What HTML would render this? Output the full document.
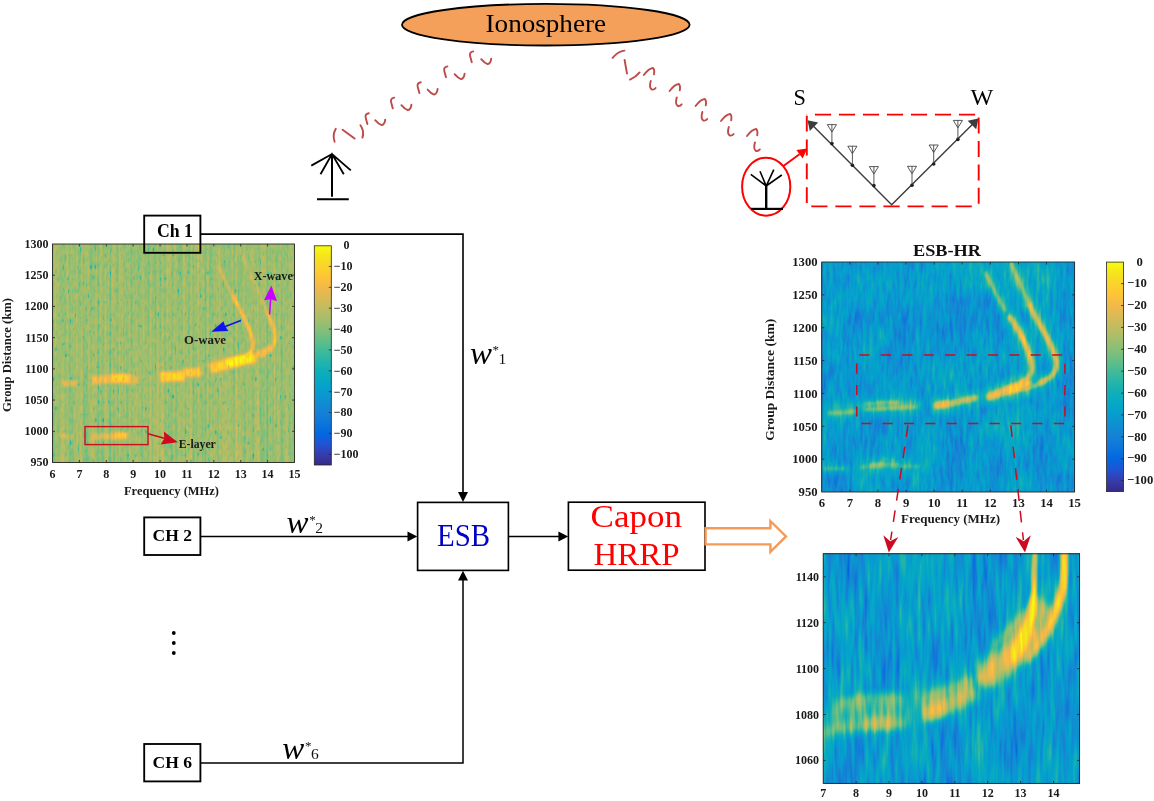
<!DOCTYPE html>
<html lang="en"><head><meta charset="utf-8"><title>ESB Capon HRRP ionosphere diagram</title>
<style>
html,body{margin:0;padding:0;background:#fff;}
body{width:1154px;height:801px;overflow:hidden;}
svg{display:block;font-family:"Liberation Serif", "DejaVu Serif", serif;}
svg text{font-family:"Liberation Serif", "DejaVu Serif", serif;}
</style></head><body>
<svg width="1154" height="801" viewBox="0 0 1154 801">
<defs>
<linearGradient id="cbar" x1="0" y1="0" x2="0" y2="1"><stop offset="0.0000" stop-color="#f9fb0e"/><stop offset="0.0476" stop-color="#f5e41d"/><stop offset="0.0952" stop-color="#fad32a"/><stop offset="0.1429" stop-color="#ffc337"/><stop offset="0.1905" stop-color="#f1b94a"/><stop offset="0.2381" stop-color="#d9ba56"/><stop offset="0.2857" stop-color="#c0bc60"/><stop offset="0.3333" stop-color="#a5be6b"/><stop offset="0.3810" stop-color="#87bf77"/><stop offset="0.4286" stop-color="#65be86"/><stop offset="0.4762" stop-color="#42bb98"/><stop offset="0.5238" stop-color="#25b5a9"/><stop offset="0.5714" stop-color="#0faeb9"/><stop offset="0.6190" stop-color="#06a7c6"/><stop offset="0.6667" stop-color="#079ccf"/><stop offset="0.7143" stop-color="#108ed2"/><stop offset="0.7619" stop-color="#1481d6"/><stop offset="0.8095" stop-color="#0d75dc"/><stop offset="0.8571" stop-color="#0268e1"/><stop offset="0.9048" stop-color="#2053d4"/><stop offset="0.9524" stop-color="#353dad"/><stop offset="1.0000" stop-color="#352a87"/><stop offset="1" stop-color="#352a87"/></linearGradient>
<marker id="ab" viewBox="0 0 10 10" refX="10" refY="5" markerWidth="10" markerHeight="10" markerUnits="userSpaceOnUse" orient="auto"><path d="M0,0 L10,5 L0,10 z" fill="#000"/></marker>
<filter id="b1" filterUnits="userSpaceOnUse" x="0" y="200" width="1154" height="601" color-interpolation-filters="sRGB"><feGaussianBlur stdDeviation="1.25"/></filter>
<filter id="b15" filterUnits="userSpaceOnUse" x="0" y="200" width="1154" height="601" color-interpolation-filters="sRGB"><feGaussianBlur stdDeviation="1.7"/></filter>
<filter id="b2" filterUnits="userSpaceOnUse" x="0" y="200" width="1154" height="601" color-interpolation-filters="sRGB"><feGaussianBlur stdDeviation="2.2"/></filter>
<filter id="b3" filterUnits="userSpaceOnUse" x="0" y="200" width="1154" height="601" color-interpolation-filters="sRGB"><feGaussianBlur stdDeviation="3.5"/></filter>
<filter id="b4" filterUnits="userSpaceOnUse" x="0" y="200" width="1154" height="601" color-interpolation-filters="sRGB"><feGaussianBlur stdDeviation="1.6 4"/></filter>
<filter id="hmf1" filterUnits="userSpaceOnUse" x="52.5" y="244" width="242" height="218.5" color-interpolation-filters="sRGB"><feTurbulence type="fractalNoise" baseFrequency="0.42 0.16" numOctaves="1" seed="11" result="n"/><feColorMatrix in="n" type="matrix" values="0.15 0 0 0 0.425  0.15 0 0 0 0.425  0.15 0 0 0 0.425  0 0 0 0 1" result="ng"/><feComposite in="SourceGraphic" in2="ng" operator="arithmetic" k1="0" k2="1" k3="1" k4="-0.5" result="v1"/><feTurbulence type="fractalNoise" baseFrequency="0.42 0.003" numOctaves="1" seed="5" result="n2"/><feColorMatrix in="n2" type="matrix" values="0.24 0 0 0 0.38  0.24 0 0 0 0.38  0.24 0 0 0 0.38  0 0 0 0 1" result="ng2"/><feComposite in="v1" in2="ng2" operator="arithmetic" k1="0" k2="1" k3="1" k4="-0.5" result="v2"/><feTurbulence type="fractalNoise" baseFrequency="0.40 0.17" numOctaves="1" seed="31" result="n3"/><feColorMatrix in="n3" type="matrix" values="0 6 0 0 -1.0699999999999998  0 6 0 0 -1.0699999999999998  0 6 0 0 -1.0699999999999998  0 0 0 0 1" result="ng3"/><feComposite in="v2" in2="ng3" operator="arithmetic" k1="0" k2="1" k3="0.17" k4="-0.17" result="v3"/><feComponentTransfer in="v3"><feFuncR type="table" tableValues="0.208 0.212 0.212 0.208 0.196 0.171 0.125 0.059 0.012 0.006 0.017 0.033 0.050 0.063 0.072 0.078 0.079 0.075 0.064 0.049 0.034 0.026 0.024 0.023 0.023 0.027 0.038 0.059 0.084 0.113 0.145 0.180 0.218 0.259 0.302 0.348 0.395 0.442 0.487 0.530 0.571 0.610 0.647 0.683 0.718 0.752 0.786 0.819 0.851 0.882 0.914 0.945 0.974 0.994 0.999 0.996 0.988 0.979 0.970 0.963 0.959 0.960 0.966 0.976"/><feFuncG type="table" tableValues="0.166 0.190 0.214 0.239 0.265 0.292 0.324 0.360 0.388 0.409 0.427 0.443 0.459 0.474 0.489 0.504 0.520 0.537 0.557 0.577 0.597 0.614 0.629 0.642 0.653 0.664 0.674 0.684 0.693 0.702 0.710 0.718 0.725 0.732 0.738 0.742 0.746 0.748 0.749 0.749 0.749 0.747 0.746 0.744 0.741 0.738 0.736 0.733 0.730 0.727 0.726 0.726 0.731 0.746 0.765 0.786 0.807 0.827 0.848 0.871 0.895 0.922 0.951 0.983"/><feFuncB type="table" tableValues="0.529 0.578 0.627 0.677 0.728 0.779 0.830 0.868 0.882 0.883 0.879 0.872 0.864 0.855 0.847 0.838 0.831 0.826 0.824 0.823 0.820 0.814 0.804 0.791 0.777 0.761 0.744 0.725 0.706 0.686 0.665 0.642 0.619 0.595 0.571 0.547 0.524 0.503 0.484 0.466 0.449 0.434 0.419 0.404 0.391 0.377 0.363 0.350 0.336 0.322 0.306 0.289 0.267 0.240 0.216 0.197 0.179 0.163 0.147 0.131 0.113 0.095 0.075 0.054"/></feComponentTransfer></filter>
<filter id="hmf2" filterUnits="userSpaceOnUse" x="821.8" y="262" width="252.8" height="230" color-interpolation-filters="sRGB"><feTurbulence type="fractalNoise" baseFrequency="0.30 0.055" numOctaves="2" seed="4" result="n"/><feColorMatrix in="n" type="matrix" values="0.3 0 0 0 0.35  0.3 0 0 0 0.35  0.3 0 0 0 0.35  0 0 0 0 1" result="ng"/><feComposite in="SourceGraphic" in2="ng" operator="arithmetic" k1="0" k2="1" k3="1" k4="-0.5" result="v1"/><feTurbulence type="fractalNoise" baseFrequency="0.035 0.02" numOctaves="1" seed="9" result="n2"/><feColorMatrix in="n2" type="matrix" values="0.28 0 0 0 0.36  0.28 0 0 0 0.36  0.28 0 0 0 0.36  0 0 0 0 1" result="ng2"/><feComposite in="v1" in2="ng2" operator="arithmetic" k1="0" k2="1" k3="1" k4="-0.5" result="v2"/><feComponentTransfer in="v2"><feFuncR type="table" tableValues="0.208 0.212 0.212 0.208 0.196 0.171 0.125 0.059 0.012 0.006 0.017 0.033 0.050 0.063 0.072 0.078 0.079 0.075 0.064 0.049 0.034 0.026 0.024 0.023 0.023 0.027 0.038 0.059 0.084 0.113 0.145 0.180 0.218 0.259 0.302 0.348 0.395 0.442 0.487 0.530 0.571 0.610 0.647 0.683 0.718 0.752 0.786 0.819 0.851 0.882 0.914 0.945 0.974 0.994 0.999 0.996 0.988 0.979 0.970 0.963 0.959 0.960 0.966 0.976"/><feFuncG type="table" tableValues="0.166 0.190 0.214 0.239 0.265 0.292 0.324 0.360 0.388 0.409 0.427 0.443 0.459 0.474 0.489 0.504 0.520 0.537 0.557 0.577 0.597 0.614 0.629 0.642 0.653 0.664 0.674 0.684 0.693 0.702 0.710 0.718 0.725 0.732 0.738 0.742 0.746 0.748 0.749 0.749 0.749 0.747 0.746 0.744 0.741 0.738 0.736 0.733 0.730 0.727 0.726 0.726 0.731 0.746 0.765 0.786 0.807 0.827 0.848 0.871 0.895 0.922 0.951 0.983"/><feFuncB type="table" tableValues="0.529 0.578 0.627 0.677 0.728 0.779 0.830 0.868 0.882 0.883 0.879 0.872 0.864 0.855 0.847 0.838 0.831 0.826 0.824 0.823 0.820 0.814 0.804 0.791 0.777 0.761 0.744 0.725 0.706 0.686 0.665 0.642 0.619 0.595 0.571 0.547 0.524 0.503 0.484 0.466 0.449 0.434 0.419 0.404 0.391 0.377 0.363 0.350 0.336 0.322 0.306 0.289 0.267 0.240 0.216 0.197 0.179 0.163 0.147 0.131 0.113 0.095 0.075 0.054"/></feComponentTransfer></filter>
<filter id="hmf3" filterUnits="userSpaceOnUse" x="823.2" y="553.8" width="256.4" height="229.6" color-interpolation-filters="sRGB"><feTurbulence type="fractalNoise" baseFrequency="0.22 0.022" numOctaves="2" seed="21" result="n"/><feColorMatrix in="n" type="matrix" values="0.44 0 0 0 0.28  0.44 0 0 0 0.28  0.44 0 0 0 0.28  0 0 0 0 1" result="ng"/><feComposite in="SourceGraphic" in2="ng" operator="arithmetic" k1="0" k2="1" k3="1" k4="-0.5" result="v1"/><feTurbulence type="fractalNoise" baseFrequency="0.03 0.012" numOctaves="1" seed="13" result="n2"/><feColorMatrix in="n2" type="matrix" values="0.3 0 0 0 0.35  0.3 0 0 0 0.35  0.3 0 0 0 0.35  0 0 0 0 1" result="ng2"/><feComposite in="v1" in2="ng2" operator="arithmetic" k1="0" k2="1" k3="1" k4="-0.5" result="v2"/><feComponentTransfer in="v2"><feFuncR type="table" tableValues="0.208 0.212 0.212 0.208 0.196 0.171 0.125 0.059 0.012 0.006 0.017 0.033 0.050 0.063 0.072 0.078 0.079 0.075 0.064 0.049 0.034 0.026 0.024 0.023 0.023 0.027 0.038 0.059 0.084 0.113 0.145 0.180 0.218 0.259 0.302 0.348 0.395 0.442 0.487 0.530 0.571 0.610 0.647 0.683 0.718 0.752 0.786 0.819 0.851 0.882 0.914 0.945 0.974 0.994 0.999 0.996 0.988 0.979 0.970 0.963 0.959 0.960 0.966 0.976"/><feFuncG type="table" tableValues="0.166 0.190 0.214 0.239 0.265 0.292 0.324 0.360 0.388 0.409 0.427 0.443 0.459 0.474 0.489 0.504 0.520 0.537 0.557 0.577 0.597 0.614 0.629 0.642 0.653 0.664 0.674 0.684 0.693 0.702 0.710 0.718 0.725 0.732 0.738 0.742 0.746 0.748 0.749 0.749 0.749 0.747 0.746 0.744 0.741 0.738 0.736 0.733 0.730 0.727 0.726 0.726 0.731 0.746 0.765 0.786 0.807 0.827 0.848 0.871 0.895 0.922 0.951 0.983"/><feFuncB type="table" tableValues="0.529 0.578 0.627 0.677 0.728 0.779 0.830 0.868 0.882 0.883 0.879 0.872 0.864 0.855 0.847 0.838 0.831 0.826 0.824 0.823 0.820 0.814 0.804 0.791 0.777 0.761 0.744 0.725 0.706 0.686 0.665 0.642 0.619 0.595 0.571 0.547 0.524 0.503 0.484 0.466 0.449 0.434 0.419 0.404 0.391 0.377 0.363 0.350 0.336 0.322 0.306 0.289 0.267 0.240 0.216 0.197 0.179 0.163 0.147 0.131 0.113 0.095 0.075 0.054"/></feComponentTransfer></filter>
</defs>
<rect x="0" y="0" width="1154" height="801" fill="#fff"/>
<g filter="url(#hmf1)"><rect x="47.5" y="239" width="252" height="228.5" fill="#a7a7a7"/><path d="M62.0,383.4 L76.0,383.0" fill="none" stroke="#c7c7c7" stroke-width="5.5" stroke-linecap="butt" stroke-linejoin="round" filter="url(#b15)"/><path d="M92.0,380.5 C93.7,380.3 98.7,379.8 102.0,379.5 C105.3,379.2 110.3,379.1 112.0,379.0" fill="none" stroke="#d1d1d1" stroke-width="8" stroke-linecap="butt" stroke-linejoin="round" filter="url(#b15)"/><path d="M111.0,378.6 C112.7,378.6 117.7,378.3 121.0,378.3 C124.3,378.3 129.3,378.6 131.0,378.6" fill="none" stroke="#e6e6e6" stroke-width="9" stroke-linecap="butt" stroke-linejoin="round" filter="url(#b15)"/><path d="M131.0,379.5 L138.0,379.0" fill="none" stroke="#c9c9c9" stroke-width="7" stroke-linecap="butt" stroke-linejoin="round" filter="url(#b15)"/><path d="M160.0,376.8 C162.0,376.8 167.9,376.7 172.0,376.6 C176.1,376.5 182.4,376.3 184.5,376.2" fill="none" stroke="#e8e8e8" stroke-width="9.5" stroke-linecap="butt" stroke-linejoin="round" filter="url(#b15)"/><path d="M184.0,372.8 C185.5,372.7 190.1,372.5 193.0,372.4 C195.9,372.3 200.1,372.1 201.5,372.0" fill="none" stroke="#e0e0e0" stroke-width="8.5" stroke-linecap="butt" stroke-linejoin="round" filter="url(#b15)"/><path d="M210.0,368.5 C212.0,368.0 218.0,366.5 222.0,365.5 C226.0,364.5 230.0,363.5 234.0,362.5 C238.0,361.5 242.5,360.4 246.0,359.5 C249.5,358.6 253.5,357.4 255.0,357.0" fill="none" stroke="#e0e0e0" stroke-width="10.5" stroke-linecap="butt" stroke-linejoin="round" filter="url(#b15)"/><path d="M230.0,362.0 C231.7,361.7 236.5,360.7 240.0,360.0 C243.5,359.3 249.2,358.3 251.0,358.0" fill="none" stroke="#fafafa" stroke-width="8" stroke-linecap="round" stroke-linejoin="round" filter="url(#b15)"/><path d="M256.0,355.5 C257.2,354.9 260.8,353.2 263.0,352.0 C265.2,350.8 268.0,348.7 269.0,348.0" fill="none" stroke="#d6d6d6" stroke-width="5" stroke-linecap="round" stroke-linejoin="round" filter="url(#b15)"/><path d="M218.0,266.0 C219.3,268.7 223.3,276.7 226.0,282.0 C228.7,287.3 232.7,295.3 234.0,298.0" fill="none" stroke="#c4c4c4" stroke-width="2.6" stroke-linecap="round" stroke-linejoin="round" filter="url(#b1)"/><path d="M233.0,296.0 C234.2,298.3 237.8,305.5 240.0,310.0 C242.2,314.5 244.7,318.8 246.5,323.0 C248.3,327.2 249.9,331.5 251.0,335.0 C252.1,338.5 252.9,341.3 253.0,344.0 C253.1,346.7 252.5,349.0 251.5,351.0 C250.5,353.0 247.8,355.2 247.0,356.0" fill="none" stroke="#e0e0e0" stroke-width="3.2" stroke-linecap="round" stroke-linejoin="round" filter="url(#b1)"/><path d="M238.5,247.0 C239.9,250.2 244.2,259.7 247.0,266.0 C249.8,272.3 254.1,281.8 255.5,285.0" fill="none" stroke="#bdbdbd" stroke-width="2.4" stroke-linecap="round" stroke-linejoin="round" filter="url(#b1)"/><path d="M256.0,287.0 C257.0,289.2 260.1,295.7 262.0,300.0 C263.9,304.3 266.6,310.8 267.5,313.0" fill="none" stroke="#bdbdbd" stroke-width="2.4" stroke-linecap="round" stroke-linejoin="round" filter="url(#b1)"/><path d="M267.5,313.0 C268.2,314.8 270.8,320.5 272.0,324.0 C273.2,327.5 274.6,330.8 275.0,334.0 C275.4,337.2 275.3,340.3 274.5,343.0 C273.7,345.7 272.1,347.8 270.0,350.0 C267.9,352.2 263.3,355.0 262.0,356.0" fill="none" stroke="#dbdbdb" stroke-width="3.2" stroke-linecap="round" stroke-linejoin="round" filter="url(#b1)"/><path d="M58.0,436.0 L74.0,436.2" fill="none" stroke="#bdbdbd" stroke-width="5" stroke-linecap="butt" stroke-linejoin="round" filter="url(#b15)"/><path d="M92.0,436.8 C94.7,436.8 102.0,436.7 108.0,436.6 C114.0,436.5 124.7,436.3 128.0,436.2" fill="none" stroke="#c7c7c7" stroke-width="5.5" stroke-linecap="butt" stroke-linejoin="round" filter="url(#b15)"/><path d="M112.0,435.6 L127.0,435.4" fill="none" stroke="#dbdbdb" stroke-width="6.5" stroke-linecap="butt" stroke-linejoin="round" filter="url(#b15)"/></g>
<rect x="52.5" y="244" width="242" height="218.5" fill="none" stroke="#262626" stroke-width="0.9"/><path d="M79.39,462.5 v-2.5 M79.39,244 v2.5 M106.28,462.5 v-2.5 M106.28,244 v2.5 M133.17,462.5 v-2.5 M133.17,244 v2.5 M160.06,462.5 v-2.5 M160.06,244 v2.5 M186.94,462.5 v-2.5 M186.94,244 v2.5 M213.83,462.5 v-2.5 M213.83,244 v2.5 M240.72,462.5 v-2.5 M240.72,244 v2.5 M267.61,462.5 v-2.5 M267.61,244 v2.5 M52.5,431.29 h2.5 M294.5,431.29 h-2.5 M52.5,400.07 h2.5 M294.5,400.07 h-2.5 M52.5,368.86 h2.5 M294.5,368.86 h-2.5 M52.5,337.64 h2.5 M294.5,337.64 h-2.5 M52.5,306.43 h2.5 M294.5,306.43 h-2.5 M52.5,275.21 h2.5 M294.5,275.21 h-2.5 " stroke="#262626" stroke-width="0.8" fill="none"/>
<text x="52.5" y="477.9" font-size="12" font-weight="bold" font-style="normal" text-anchor="middle" fill="#1a1a1a">6</text>
<text x="79.4" y="477.9" font-size="12" font-weight="bold" font-style="normal" text-anchor="middle" fill="#1a1a1a">7</text>
<text x="106.3" y="477.9" font-size="12" font-weight="bold" font-style="normal" text-anchor="middle" fill="#1a1a1a">8</text>
<text x="133.2" y="477.9" font-size="12" font-weight="bold" font-style="normal" text-anchor="middle" fill="#1a1a1a">9</text>
<text x="160.1" y="477.9" font-size="12" font-weight="bold" font-style="normal" text-anchor="middle" fill="#1a1a1a">10</text>
<text x="186.9" y="477.9" font-size="12" font-weight="bold" font-style="normal" text-anchor="middle" fill="#1a1a1a">11</text>
<text x="213.8" y="477.9" font-size="12" font-weight="bold" font-style="normal" text-anchor="middle" fill="#1a1a1a">12</text>
<text x="240.7" y="477.9" font-size="12" font-weight="bold" font-style="normal" text-anchor="middle" fill="#1a1a1a">13</text>
<text x="267.6" y="477.9" font-size="12" font-weight="bold" font-style="normal" text-anchor="middle" fill="#1a1a1a">14</text>
<text x="294.5" y="477.9" font-size="12" font-weight="bold" font-style="normal" text-anchor="middle" fill="#1a1a1a">15</text>
<text x="48.6" y="466.4" font-size="12" font-weight="bold" font-style="normal" text-anchor="end" fill="#1a1a1a">950</text>
<text x="48.6" y="435.2" font-size="12" font-weight="bold" font-style="normal" text-anchor="end" fill="#1a1a1a">1000</text>
<text x="48.6" y="404.0" font-size="12" font-weight="bold" font-style="normal" text-anchor="end" fill="#1a1a1a">1050</text>
<text x="48.6" y="372.8" font-size="12" font-weight="bold" font-style="normal" text-anchor="end" fill="#1a1a1a">1100</text>
<text x="48.6" y="341.5" font-size="12" font-weight="bold" font-style="normal" text-anchor="end" fill="#1a1a1a">1150</text>
<text x="48.6" y="310.3" font-size="12" font-weight="bold" font-style="normal" text-anchor="end" fill="#1a1a1a">1200</text>
<text x="48.6" y="279.1" font-size="12" font-weight="bold" font-style="normal" text-anchor="end" fill="#1a1a1a">1250</text>
<text x="48.6" y="247.9" font-size="12" font-weight="bold" font-style="normal" text-anchor="end" fill="#1a1a1a">1300</text>
<text x="171.5" y="495.2" font-size="12" font-weight="bold" font-style="normal" text-anchor="middle" fill="#1a1a1a" textLength="95" lengthAdjust="spacingAndGlyphs">Frequency (MHz)</text>
<text transform="translate(11.3,355) rotate(-90)" font-size="12" font-weight="bold" text-anchor="middle" fill="#1a1a1a" textLength="114" lengthAdjust="spacingAndGlyphs">Group Distance (km)</text>
<rect x="314.3" y="245.8" width="17" height="219.2" fill="url(#cbar)" stroke="#262626" stroke-width="0.8"/>
<path d="M331.3,454.25 h-2.5 M331.3,433.38 h-2.5 M331.3,412.52 h-2.5 M331.3,391.65 h-2.5 M331.3,370.79 h-2.5 M331.3,349.93 h-2.5 M331.3,329.06 h-2.5 M331.3,308.19 h-2.5 M331.3,287.33 h-2.5 M331.3,266.46 h-2.5 " stroke="#262626" stroke-width="0.8"/>
<text x="343.4" y="249.4" font-size="12" font-weight="bold" font-style="normal" text-anchor="start" fill="#1a1a1a">0</text>
<text x="333.7" y="270.3" font-size="12" font-weight="bold" font-style="normal" text-anchor="start" fill="#1a1a1a">−10</text>
<text x="333.7" y="291.1" font-size="12" font-weight="bold" font-style="normal" text-anchor="start" fill="#1a1a1a">−20</text>
<text x="333.7" y="312.0" font-size="12" font-weight="bold" font-style="normal" text-anchor="start" fill="#1a1a1a">−30</text>
<text x="333.7" y="332.9" font-size="12" font-weight="bold" font-style="normal" text-anchor="start" fill="#1a1a1a">−40</text>
<text x="333.7" y="353.7" font-size="12" font-weight="bold" font-style="normal" text-anchor="start" fill="#1a1a1a">−50</text>
<text x="333.7" y="374.6" font-size="12" font-weight="bold" font-style="normal" text-anchor="start" fill="#1a1a1a">−60</text>
<text x="333.7" y="395.5" font-size="12" font-weight="bold" font-style="normal" text-anchor="start" fill="#1a1a1a">−70</text>
<text x="333.7" y="416.3" font-size="12" font-weight="bold" font-style="normal" text-anchor="start" fill="#1a1a1a">−80</text>
<text x="333.7" y="437.2" font-size="12" font-weight="bold" font-style="normal" text-anchor="start" fill="#1a1a1a">−90</text>
<text x="333.7" y="458.1" font-size="12" font-weight="bold" font-style="normal" text-anchor="start" fill="#1a1a1a">−100</text>
<g filter="url(#hmf2)"><rect x="816.8" y="257" width="262.8" height="240" fill="#545454"/><path d="M829.0,413.0 C831.2,412.9 837.7,412.8 842.0,412.6 C846.3,412.4 852.8,411.8 855.0,411.6" fill="none" stroke="#6b6b6b" stroke-width="12.1" stroke-linecap="round" stroke-linejoin="round" filter="url(#b3)"/><path d="M864.0,406.5 C866.7,406.3 874.0,405.8 880.0,405.5 C886.0,405.2 893.8,405.2 900.0,405.0 C906.2,404.8 914.2,404.6 917.0,404.5" fill="none" stroke="#676767" stroke-width="13.8" stroke-linecap="round" stroke-linejoin="round" filter="url(#b3)"/><path d="M866.0,404.0 C868.7,403.8 876.7,402.9 882.0,402.6 C887.3,402.3 895.3,402.4 898.0,402.4" fill="none" stroke="#727272" stroke-width="6.6" stroke-linecap="round" stroke-linejoin="round" filter="url(#b3)"/><path d="M866.0,409.6 C869.0,409.4 877.7,408.9 884.0,408.6 C890.3,408.3 898.7,407.9 904.0,407.6 C909.3,407.3 914.0,407.1 916.0,407.0" fill="none" stroke="#747474" stroke-width="6.6" stroke-linecap="round" stroke-linejoin="round" filter="url(#b3)"/><path d="M937.0,405.5 C939.2,405.2 945.5,404.3 950.0,403.5 C954.5,402.7 959.8,401.4 964.0,400.5 C968.2,399.6 973.2,398.4 975.0,398.0" fill="none" stroke="#787878" stroke-width="14.0" stroke-linecap="round" stroke-linejoin="round" filter="url(#b3)"/><path d="M938.0,405.0 L946.0,403.8" fill="none" stroke="#7e7e7e" stroke-width="12.0" stroke-linecap="round" stroke-linejoin="round" filter="url(#b3)"/><path d="M990.0,396.5 C991.7,395.9 996.3,394.2 1000.0,393.0 C1003.7,391.8 1008.2,390.2 1012.0,389.0 C1015.8,387.8 1021.2,386.5 1023.0,386.0" fill="none" stroke="#7f7f7f" stroke-width="17.0" stroke-linecap="round" stroke-linejoin="round" filter="url(#b3)"/><path d="M1008.0,390.0 C1009.7,389.5 1014.8,388.2 1018.0,387.0 C1021.2,385.8 1025.5,383.7 1027.0,383.0" fill="none" stroke="#878787" stroke-width="15.8" stroke-linecap="round" stroke-linejoin="round" filter="url(#b3)"/><path d="M1023.0,389.5 C1024.8,388.9 1030.5,387.3 1034.0,386.0 C1037.5,384.7 1042.3,382.2 1044.0,381.5" fill="none" stroke="#7a7a7a" stroke-width="10.0" stroke-linecap="round" stroke-linejoin="round" filter="url(#b3)"/><path d="M985.6,273.5 C987.2,276.6 991.8,285.8 995.0,292.0 C998.2,298.2 1003.2,307.6 1004.8,310.7" fill="none" stroke="#727272" stroke-width="10.8" stroke-linecap="round" stroke-linejoin="round" filter="url(#b3)"/><path d="M1010.4,317.5 C1011.5,319.2 1014.9,324.4 1017.0,328.0 C1019.1,331.6 1021.1,335.7 1022.8,339.0 C1024.5,342.3 1025.8,345.0 1027.0,348.0 C1028.2,351.0 1029.2,353.7 1030.0,357.0 C1030.8,360.3 1032.0,364.8 1031.8,368.0 C1031.6,371.2 1030.6,374.1 1029.0,376.5 C1027.4,378.9 1023.2,381.5 1022.0,382.5" fill="none" stroke="#838383" stroke-width="12.680000000000001" stroke-linecap="round" stroke-linejoin="round" filter="url(#b3)"/><path d="M1011.5,263.4 C1012.9,266.8 1017.0,277.1 1020.0,284.0 C1023.0,290.9 1027.9,301.5 1029.5,305.0" fill="none" stroke="#747474" stroke-width="10.8" stroke-linecap="round" stroke-linejoin="round" filter="url(#b3)"/><path d="M1029.5,305.0 C1030.8,307.5 1034.4,315.1 1037.0,320.0 C1039.6,324.9 1043.0,330.2 1045.3,334.4 C1047.5,338.6 1049.0,341.6 1050.5,345.0 C1052.0,348.4 1053.3,351.4 1054.3,354.6 C1055.3,357.8 1056.4,361.3 1056.5,364.0 C1056.6,366.7 1056.1,368.8 1055.0,371.0 C1053.9,373.2 1052.3,375.1 1050.0,377.0 C1047.7,378.9 1042.5,381.6 1041.0,382.5" fill="none" stroke="#818181" stroke-width="12.240000000000002" stroke-linecap="round" stroke-linejoin="round" filter="url(#b3)"/><path d="M826.0,468.6 C827.5,468.6 832.0,468.8 835.0,468.8 C838.0,468.8 842.5,468.5 844.0,468.4" fill="none" stroke="#6b6b6b" stroke-width="10.8" stroke-linecap="round" stroke-linejoin="round" filter="url(#b3)"/><path d="M862.0,467.0 C865.0,466.8 873.7,466.1 880.0,466.0 C886.3,465.9 893.7,466.5 900.0,466.5 C906.3,466.5 915.0,466.1 918.0,466.0" fill="none" stroke="#676767" stroke-width="10.8" stroke-linecap="round" stroke-linejoin="round" filter="url(#b3)"/><path d="M872.0,465.5 C874.2,465.2 880.7,464.2 885.0,464.0 C889.3,463.8 895.8,464.4 898.0,464.5" fill="none" stroke="#6f6f6f" stroke-width="14.700000000000001" stroke-linecap="round" stroke-linejoin="round" filter="url(#b3)"/><path d="M884.0,459.0 L895.0,461.0" fill="none" stroke="#676767" stroke-width="10.8" stroke-linecap="round" stroke-linejoin="round" filter="url(#b3)"/><path d="M829.0,413.0 C831.2,412.9 837.7,412.8 842.0,412.6 C846.3,412.4 852.8,411.8 855.0,411.6" fill="none" stroke="#949494" stroke-width="3.6750000000000003" stroke-linecap="round" stroke-linejoin="round" filter="url(#b15)"/><path d="M864.0,406.5 C866.7,406.3 874.0,405.8 880.0,405.5 C886.0,405.2 893.8,405.2 900.0,405.0 C906.2,404.8 914.2,404.6 917.0,404.5" fill="none" stroke="#8a8a8a" stroke-width="6.300000000000001" stroke-linecap="round" stroke-linejoin="round" filter="url(#b2)"/><path d="M866.0,404.0 C868.7,403.8 876.7,402.9 882.0,402.6 C887.3,402.3 895.3,402.4 898.0,402.4" fill="none" stroke="#a8a8a8" stroke-width="2.52" stroke-linecap="round" stroke-linejoin="round" filter="url(#b15)"/><path d="M866.0,409.6 C869.0,409.4 877.7,408.9 884.0,408.6 C890.3,408.3 898.7,407.9 904.0,407.6 C909.3,407.3 914.0,407.1 916.0,407.0" fill="none" stroke="#adadad" stroke-width="2.52" stroke-linecap="round" stroke-linejoin="round" filter="url(#b15)"/><path d="M937.0,405.5 C939.2,405.2 945.5,404.3 950.0,403.5 C954.5,402.7 959.8,401.4 964.0,400.5 C968.2,399.6 973.2,398.4 975.0,398.0" fill="none" stroke="#b8b8b8" stroke-width="5.775" stroke-linecap="round" stroke-linejoin="round" filter="url(#b15)"/><path d="M938.0,405.0 L946.0,403.8" fill="none" stroke="#c9c9c9" stroke-width="6.300000000000001" stroke-linecap="round" stroke-linejoin="round" filter="url(#b15)"/><path d="M990.0,396.5 C991.7,395.9 996.3,394.2 1000.0,393.0 C1003.7,391.8 1008.2,390.2 1012.0,389.0 C1015.8,387.8 1021.2,386.5 1023.0,386.0" fill="none" stroke="#cccccc" stroke-width="7.3500000000000005" stroke-linecap="round" stroke-linejoin="round" filter="url(#b15)"/><path d="M1008.0,390.0 C1009.7,389.5 1014.8,388.2 1018.0,387.0 C1021.2,385.8 1025.5,383.7 1027.0,383.0" fill="none" stroke="#e0e0e0" stroke-width="8.4" stroke-linecap="round" stroke-linejoin="round" filter="url(#b15)"/><path d="M1023.0,389.5 C1024.8,388.9 1030.5,387.3 1034.0,386.0 C1037.5,384.7 1042.3,382.2 1044.0,381.5" fill="none" stroke="#bdbdbd" stroke-width="3.6750000000000003" stroke-linecap="round" stroke-linejoin="round" filter="url(#b15)"/><path d="M985.6,273.5 C987.2,276.6 991.8,285.8 995.0,292.0 C998.2,298.2 1003.2,307.6 1004.8,310.7" fill="none" stroke="#a8a8a8" stroke-width="3.1500000000000004" stroke-linecap="round" stroke-linejoin="round" filter="url(#b15)"/><path d="M1010.4,317.5 C1011.5,319.2 1014.9,324.4 1017.0,328.0 C1019.1,331.6 1021.1,335.7 1022.8,339.0 C1024.5,342.3 1025.8,345.0 1027.0,348.0 C1028.2,351.0 1029.2,353.7 1030.0,357.0 C1030.8,360.3 1032.0,364.8 1031.8,368.0 C1031.6,371.2 1030.6,374.1 1029.0,376.5 C1027.4,378.9 1023.2,381.5 1022.0,382.5" fill="none" stroke="#d6d6d6" stroke-width="4.620000000000001" stroke-linecap="round" stroke-linejoin="round" filter="url(#b15)"/><path d="M1011.5,263.4 C1012.9,266.8 1017.0,277.1 1020.0,284.0 C1023.0,290.9 1027.9,301.5 1029.5,305.0" fill="none" stroke="#adadad" stroke-width="3.1500000000000004" stroke-linecap="round" stroke-linejoin="round" filter="url(#b15)"/><path d="M1029.5,305.0 C1030.8,307.5 1034.4,315.1 1037.0,320.0 C1039.6,324.9 1043.0,330.2 1045.3,334.4 C1047.5,338.6 1049.0,341.6 1050.5,345.0 C1052.0,348.4 1053.3,351.4 1054.3,354.6 C1055.3,357.8 1056.4,361.3 1056.5,364.0 C1056.6,366.7 1056.1,368.8 1055.0,371.0 C1053.9,373.2 1052.3,375.1 1050.0,377.0 C1047.7,378.9 1042.5,381.6 1041.0,382.5" fill="none" stroke="#d1d1d1" stroke-width="4.41" stroke-linecap="round" stroke-linejoin="round" filter="url(#b15)"/><path d="M826.0,468.6 C827.5,468.6 832.0,468.8 835.0,468.8 C838.0,468.8 842.5,468.5 844.0,468.4" fill="none" stroke="#949494" stroke-width="3.1500000000000004" stroke-linecap="round" stroke-linejoin="round" filter="url(#b15)"/><path d="M862.0,467.0 C865.0,466.8 873.7,466.1 880.0,466.0 C886.3,465.9 893.7,466.5 900.0,466.5 C906.3,466.5 915.0,466.1 918.0,466.0" fill="none" stroke="#8a8a8a" stroke-width="3.1500000000000004" stroke-linecap="round" stroke-linejoin="round" filter="url(#b15)"/><path d="M872.0,465.5 C874.2,465.2 880.7,464.2 885.0,464.0 C889.3,463.8 895.8,464.4 898.0,464.5" fill="none" stroke="#9e9e9e" stroke-width="4.7250000000000005" stroke-linecap="round" stroke-linejoin="round" filter="url(#b15)"/><path d="M884.0,459.0 L895.0,461.0" fill="none" stroke="#8a8a8a" stroke-width="3.1500000000000004" stroke-linecap="round" stroke-linejoin="round" filter="url(#b15)"/></g>
<rect x="821.8" y="262" width="252.8" height="230" fill="none" stroke="#262626" stroke-width="0.9"/><path d="M849.89,492 v-2.5 M849.89,262 v2.5 M877.98,492 v-2.5 M877.98,262 v2.5 M906.07,492 v-2.5 M906.07,262 v2.5 M934.16,492 v-2.5 M934.16,262 v2.5 M962.24,492 v-2.5 M962.24,262 v2.5 M990.33,492 v-2.5 M990.33,262 v2.5 M1018.42,492 v-2.5 M1018.42,262 v2.5 M1046.51,492 v-2.5 M1046.51,262 v2.5 M821.8,459.14 h2.5 M1074.6,459.14 h-2.5 M821.8,426.29 h2.5 M1074.6,426.29 h-2.5 M821.8,393.43 h2.5 M1074.6,393.43 h-2.5 M821.8,360.57 h2.5 M1074.6,360.57 h-2.5 M821.8,327.71 h2.5 M1074.6,327.71 h-2.5 M821.8,294.86 h2.5 M1074.6,294.86 h-2.5 " stroke="#262626" stroke-width="0.8" fill="none"/>
<text x="821.8" y="507.3" font-size="12.7" font-weight="bold" font-style="normal" text-anchor="middle" fill="#1a1a1a">6</text>
<text x="849.9" y="507.3" font-size="12.7" font-weight="bold" font-style="normal" text-anchor="middle" fill="#1a1a1a">7</text>
<text x="878.0" y="507.3" font-size="12.7" font-weight="bold" font-style="normal" text-anchor="middle" fill="#1a1a1a">8</text>
<text x="906.1" y="507.3" font-size="12.7" font-weight="bold" font-style="normal" text-anchor="middle" fill="#1a1a1a">9</text>
<text x="934.2" y="507.3" font-size="12.7" font-weight="bold" font-style="normal" text-anchor="middle" fill="#1a1a1a">10</text>
<text x="962.2" y="507.3" font-size="12.7" font-weight="bold" font-style="normal" text-anchor="middle" fill="#1a1a1a">11</text>
<text x="990.3" y="507.3" font-size="12.7" font-weight="bold" font-style="normal" text-anchor="middle" fill="#1a1a1a">12</text>
<text x="1018.4" y="507.3" font-size="12.7" font-weight="bold" font-style="normal" text-anchor="middle" fill="#1a1a1a">13</text>
<text x="1046.5" y="507.3" font-size="12.7" font-weight="bold" font-style="normal" text-anchor="middle" fill="#1a1a1a">14</text>
<text x="1074.6" y="507.3" font-size="12.7" font-weight="bold" font-style="normal" text-anchor="middle" fill="#1a1a1a">15</text>
<text x="817.6" y="496.2" font-size="12.7" font-weight="bold" font-style="normal" text-anchor="end" fill="#1a1a1a">950</text>
<text x="817.6" y="463.3" font-size="12.7" font-weight="bold" font-style="normal" text-anchor="end" fill="#1a1a1a">1000</text>
<text x="817.6" y="430.5" font-size="12.7" font-weight="bold" font-style="normal" text-anchor="end" fill="#1a1a1a">1050</text>
<text x="817.6" y="397.6" font-size="12.7" font-weight="bold" font-style="normal" text-anchor="end" fill="#1a1a1a">1100</text>
<text x="817.6" y="364.8" font-size="12.7" font-weight="bold" font-style="normal" text-anchor="end" fill="#1a1a1a">1150</text>
<text x="817.6" y="331.9" font-size="12.7" font-weight="bold" font-style="normal" text-anchor="end" fill="#1a1a1a">1200</text>
<text x="817.6" y="299.1" font-size="12.7" font-weight="bold" font-style="normal" text-anchor="end" fill="#1a1a1a">1250</text>
<text x="817.6" y="266.2" font-size="12.7" font-weight="bold" font-style="normal" text-anchor="end" fill="#1a1a1a">1300</text>
<text x="950.5" y="522.6" font-size="13" font-weight="bold" font-style="normal" text-anchor="middle" fill="#1a1a1a" textLength="99" lengthAdjust="spacingAndGlyphs">Frequency (MHz)</text>
<text transform="translate(774.3,379.8) rotate(-90)" font-size="13" font-weight="bold" text-anchor="middle" fill="#1a1a1a" textLength="122" lengthAdjust="spacingAndGlyphs">Group Distance (km)</text>
<text x="947" y="256.3" font-size="17.5" font-weight="bold" font-style="normal" text-anchor="middle" fill="#111" textLength="68" lengthAdjust="spacingAndGlyphs">ESB-HR</text>
<rect x="1106.6" y="262.1" width="17" height="229.5" fill="url(#cbar)" stroke="#262626" stroke-width="0.8"/>
<path d="M1123.6,480.60 h-2.5 M1123.6,458.72 h-2.5 M1123.6,436.84 h-2.5 M1123.6,414.96 h-2.5 M1123.6,393.08 h-2.5 M1123.6,371.20 h-2.5 M1123.6,349.32 h-2.5 M1123.6,327.44 h-2.5 M1123.6,305.56 h-2.5 M1123.6,283.68 h-2.5 " stroke="#262626" stroke-width="0.8"/>
<text x="1136.5" y="265.5" font-size="12.7" font-weight="bold" font-style="normal" text-anchor="start" fill="#1a1a1a">0</text>
<text x="1127" y="287.4" font-size="12.7" font-weight="bold" font-style="normal" text-anchor="start" fill="#1a1a1a">−10</text>
<text x="1127" y="309.3" font-size="12.7" font-weight="bold" font-style="normal" text-anchor="start" fill="#1a1a1a">−20</text>
<text x="1127" y="331.1" font-size="12.7" font-weight="bold" font-style="normal" text-anchor="start" fill="#1a1a1a">−30</text>
<text x="1127" y="353.0" font-size="12.7" font-weight="bold" font-style="normal" text-anchor="start" fill="#1a1a1a">−40</text>
<text x="1127" y="374.9" font-size="12.7" font-weight="bold" font-style="normal" text-anchor="start" fill="#1a1a1a">−50</text>
<text x="1127" y="396.8" font-size="12.7" font-weight="bold" font-style="normal" text-anchor="start" fill="#1a1a1a">−60</text>
<text x="1127" y="418.7" font-size="12.7" font-weight="bold" font-style="normal" text-anchor="start" fill="#1a1a1a">−70</text>
<text x="1127" y="440.5" font-size="12.7" font-weight="bold" font-style="normal" text-anchor="start" fill="#1a1a1a">−80</text>
<text x="1127" y="462.4" font-size="12.7" font-weight="bold" font-style="normal" text-anchor="start" fill="#1a1a1a">−90</text>
<text x="1127" y="484.3" font-size="12.7" font-weight="bold" font-style="normal" text-anchor="start" fill="#1a1a1a">−100</text>
<g filter="url(#hmf3)"><rect x="818.2" y="548.8" width="266.4" height="239.6" fill="#555555"/><path d="M824.0,733.0 C826.7,731.2 832.3,725.2 840.0,722.0 C847.7,718.8 860.0,715.8 870.0,714.0 C880.0,712.2 890.0,712.7 900.0,711.0 C910.0,709.3 920.0,707.2 930.0,704.0 C940.0,700.8 950.8,696.7 960.0,692.0 C969.2,687.3 977.5,681.3 985.0,676.0 C992.5,670.7 998.3,666.0 1005.0,660.0 C1011.7,654.0 1018.3,647.0 1025.0,640.0 C1031.7,633.0 1039.5,625.3 1045.0,618.0 C1050.5,610.7 1055.8,599.7 1058.0,596.0" fill="none" stroke="#666666" stroke-width="34" stroke-linecap="round" stroke-linejoin="round" filter="url(#b3)"/><path d="M838.0,715.0 C841.7,714.5 852.7,712.7 860.0,712.0 C867.3,711.3 875.3,711.3 882.0,711.0 C888.7,710.7 897.0,710.2 900.0,710.0" fill="none" stroke="#858585" stroke-width="30" stroke-linecap="butt" stroke-linejoin="round" filter="url(#b3)"/><path d="M823.0,732.0 L832.0,731.5" fill="none" stroke="#9e9e9e" stroke-width="7" stroke-linecap="round" stroke-linejoin="round" filter="url(#b4)"/><path d="M837.0,728.0 C839.2,727.8 844.8,727.3 850.0,727.0 C855.2,726.7 862.2,726.2 868.0,726.0 C873.8,725.8 879.5,725.9 885.0,725.5 C890.5,725.1 898.3,723.8 901.0,723.5" fill="none" stroke="#b2b2b2" stroke-width="6.5" stroke-linecap="round" stroke-linejoin="round" filter="url(#b4)"/><path d="M845.0,704.0 C847.2,703.3 853.5,701.0 858.0,700.0 C862.5,699.0 867.3,698.3 872.0,698.0 C876.7,697.7 881.3,697.8 886.0,698.0 C890.7,698.2 897.7,699.2 900.0,699.5" fill="none" stroke="#9e9e9e" stroke-width="7" stroke-linecap="round" stroke-linejoin="round" filter="url(#b4)"/><path d="M868.0,723.0 C870.0,722.8 876.3,722.1 880.0,722.0 C883.7,721.9 888.3,722.4 890.0,722.5" fill="none" stroke="#c2c2c2" stroke-width="7" stroke-linecap="round" stroke-linejoin="round" filter="url(#b4)"/><path d="M924.0,709.0 C926.7,708.2 934.7,706.0 940.0,704.0 C945.3,702.0 950.7,699.7 956.0,697.0 C961.3,694.3 969.3,689.5 972.0,688.0" fill="none" stroke="#8f8f8f" stroke-width="24" stroke-linecap="butt" stroke-linejoin="round" filter="url(#b3)"/><path d="M924.0,712.0 C925.8,711.5 931.0,710.5 935.0,709.0 C939.0,707.5 943.7,705.2 948.0,703.0 C952.3,700.8 956.8,698.3 961.0,696.0 C965.2,693.7 971.0,690.2 973.0,689.0" fill="none" stroke="#b2b2b2" stroke-width="13" stroke-linecap="butt" stroke-linejoin="round" filter="url(#b4)"/><path d="M928.0,714.0 C929.3,713.5 933.0,712.3 936.0,711.0 C939.0,709.7 944.3,706.8 946.0,706.0" fill="none" stroke="#cccccc" stroke-width="9" stroke-linecap="round" stroke-linejoin="round" filter="url(#b4)"/><path d="M927.0,697.0 C930.0,696.0 939.2,693.0 945.0,691.0 C950.8,689.0 957.3,686.8 962.0,685.0 C966.7,683.2 971.2,680.8 973.0,680.0" fill="none" stroke="#a3a3a3" stroke-width="6" stroke-linecap="round" stroke-linejoin="round" filter="url(#b4)"/><path d="M1000.0,652.0 C1002.0,650.0 1008.0,644.0 1012.0,640.0 C1016.0,636.0 1020.0,632.0 1024.0,628.0 C1028.0,624.0 1032.3,620.0 1036.0,616.0 C1039.7,612.0 1044.3,606.0 1046.0,604.0" fill="none" stroke="#9e9e9e" stroke-width="26" stroke-linecap="butt" stroke-linejoin="round" filter="url(#b3)"/><path d="M986.0,677.0 C988.3,674.8 995.3,668.3 1000.0,664.0 C1004.7,659.7 1009.3,655.7 1014.0,651.0 C1018.7,646.3 1023.7,641.2 1028.0,636.0 C1032.3,630.8 1038.0,622.7 1040.0,620.0" fill="none" stroke="#949494" stroke-width="30" stroke-linecap="butt" stroke-linejoin="round" filter="url(#b3)"/><path d="M986.0,677.0 C987.8,675.3 993.3,670.3 997.0,667.0 C1000.7,663.7 1004.3,660.5 1008.0,657.0 C1011.7,653.5 1015.5,649.8 1019.0,646.0 C1022.5,642.2 1027.3,636.0 1029.0,634.0" fill="none" stroke="#c7c7c7" stroke-width="18" stroke-linecap="round" stroke-linejoin="round" filter="url(#b4)"/><path d="M1016.0,658.0 C1016.8,655.8 1019.3,649.7 1021.0,645.0 C1022.7,640.3 1024.3,635.2 1026.0,630.0 C1027.7,624.8 1029.8,619.0 1031.0,614.0 C1032.2,609.0 1033.1,602.3 1033.5,600.0" fill="none" stroke="#e6e6e6" stroke-width="9" stroke-linecap="round" stroke-linejoin="round" filter="url(#b4)"/><path d="M1000.0,663.0 L1012.0,652.0" fill="none" stroke="#d6d6d6" stroke-width="10" stroke-linecap="round" stroke-linejoin="round" filter="url(#b4)"/><path d="M1034.8,550.0 C1034.8,554.2 1034.7,567.0 1034.6,575.0 C1034.5,583.0 1034.6,590.8 1034.0,598.0 C1033.4,605.2 1032.3,612.0 1031.0,618.0 C1029.7,624.0 1026.8,631.3 1026.0,634.0" fill="none" stroke="#e0e0e0" stroke-width="5.5" stroke-linecap="round" stroke-linejoin="round" filter="url(#b4)"/><path d="M1064.5,550.0 C1064.5,553.3 1064.5,563.7 1064.2,570.0 C1064.0,576.3 1063.9,582.5 1063.0,588.0 C1062.1,593.5 1061.0,597.3 1059.0,603.0 C1057.0,608.7 1054.2,615.7 1051.0,622.0 C1047.8,628.3 1043.8,635.2 1040.0,641.0 C1036.2,646.8 1030.0,654.3 1028.0,657.0" fill="none" stroke="#c7c7c7" stroke-width="8" stroke-linecap="round" stroke-linejoin="round" filter="url(#b4)"/><path d="M1064.5,550.0 C1064.5,553.3 1064.5,563.3 1064.2,570.0 C1063.9,576.7 1063.5,584.0 1062.5,590.0 C1061.5,596.0 1058.8,603.3 1058.0,606.0" fill="none" stroke="#dedede" stroke-width="5" stroke-linecap="round" stroke-linejoin="round" filter="url(#b4)"/></g>
<rect x="823.2" y="553.8" width="256.4" height="229.6" fill="none" stroke="#262626" stroke-width="0.9"/><path d="M856.10,783.4 v-2.5 M856.10,553.8 v2.5 M889.00,783.4 v-2.5 M889.00,553.8 v2.5 M921.90,783.4 v-2.5 M921.90,553.8 v2.5 M954.80,783.4 v-2.5 M954.80,553.8 v2.5 M987.70,783.4 v-2.5 M987.70,553.8 v2.5 M1020.60,783.4 v-2.5 M1020.60,553.8 v2.5 M1053.50,783.4 v-2.5 M1053.50,553.8 v2.5 M823.2,760.44 h2.5 M1079.6,760.44 h-2.5 M823.2,714.52 h2.5 M1079.6,714.52 h-2.5 M823.2,668.60 h2.5 M1079.6,668.60 h-2.5 M823.2,622.68 h2.5 M1079.6,622.68 h-2.5 M823.2,576.76 h2.5 M1079.6,576.76 h-2.5 " stroke="#262626" stroke-width="0.8" fill="none"/>
<text x="823.2" y="796.6" font-size="12" font-weight="bold" font-style="normal" text-anchor="middle" fill="#1a1a1a">7</text>
<text x="856.1" y="796.6" font-size="12" font-weight="bold" font-style="normal" text-anchor="middle" fill="#1a1a1a">8</text>
<text x="889.0" y="796.6" font-size="12" font-weight="bold" font-style="normal" text-anchor="middle" fill="#1a1a1a">9</text>
<text x="921.9" y="796.6" font-size="12" font-weight="bold" font-style="normal" text-anchor="middle" fill="#1a1a1a">10</text>
<text x="954.8" y="796.6" font-size="12" font-weight="bold" font-style="normal" text-anchor="middle" fill="#1a1a1a">11</text>
<text x="987.7" y="796.6" font-size="12" font-weight="bold" font-style="normal" text-anchor="middle" fill="#1a1a1a">12</text>
<text x="1020.6" y="796.6" font-size="12" font-weight="bold" font-style="normal" text-anchor="middle" fill="#1a1a1a">13</text>
<text x="1053.5" y="796.6" font-size="12" font-weight="bold" font-style="normal" text-anchor="middle" fill="#1a1a1a">14</text>
<text x="819" y="764.4" font-size="12" font-weight="bold" font-style="normal" text-anchor="end" fill="#1a1a1a">1060</text>
<text x="819" y="718.5" font-size="12" font-weight="bold" font-style="normal" text-anchor="end" fill="#1a1a1a">1080</text>
<text x="819" y="672.6" font-size="12" font-weight="bold" font-style="normal" text-anchor="end" fill="#1a1a1a">1100</text>
<text x="819" y="626.7" font-size="12" font-weight="bold" font-style="normal" text-anchor="end" fill="#1a1a1a">1120</text>
<text x="819" y="580.8" font-size="12" font-weight="bold" font-style="normal" text-anchor="end" fill="#1a1a1a">1140</text>
<rect x="85" y="426.6" width="63" height="18" fill="none" stroke="#cc0a20" stroke-width="1.4"/>
<path d="M148,433.8 L166,438.8" stroke="#cc0a20" stroke-width="1.5" fill="none"/>
<path d="M177.8,442.2 L160.6,444.4 L164.4,438.4 L163.8,431.6 z" fill="#cc0a20"/>
<text x="178.8" y="448" font-size="11.5" font-weight="bold" font-style="normal" text-anchor="start" fill="#1a1a1a" textLength="37" lengthAdjust="spacingAndGlyphs">E-layer</text>
<path d="M240.8,320.4 L224,326.9" stroke="#1212ee" stroke-width="1.6" fill="none"/>
<path d="M211.2,331.8 L223.5,321.3 L225.2,326.4 L228.4,331 z" fill="#1212ee"/>
<text x="184" y="343.5" font-size="11.5" font-weight="bold" font-style="normal" text-anchor="start" fill="#1a1a1a" textLength="42" lengthAdjust="spacingAndGlyphs">O-wave</text>
<path d="M269.5,314.5 L270.7,298" stroke="#c800ff" stroke-width="1.6" fill="none"/>
<path d="M271.3,285.4 L277,301.3 L270.9,299.2 L264,300.2 z" fill="#c800ff"/>
<text x="253.8" y="279.8" font-size="11.5" font-weight="bold" font-style="normal" text-anchor="start" fill="#1a1a1a" textLength="39" lengthAdjust="spacingAndGlyphs">X-wave</text>
<rect x="144.2" y="215.6" width="56.20000000000002" height="37.20000000000002" fill="none" stroke="#000" stroke-width="1.85"/>
<rect x="144.2" y="517.4" width="56.20000000000002" height="37.60000000000002" fill="none" stroke="#000" stroke-width="1.85"/>
<rect x="144.2" y="744" width="56.20000000000002" height="37.39999999999998" fill="none" stroke="#000" stroke-width="1.85"/>
<text x="175" y="237" font-size="18.5" font-weight="bold" font-style="normal" text-anchor="middle" fill="#000" textLength="36" lengthAdjust="spacingAndGlyphs">Ch 1</text>
<text x="172.3" y="541.4" font-size="17" font-weight="bold" font-style="normal" text-anchor="middle" fill="#000" textLength="39.5" lengthAdjust="spacingAndGlyphs">CH 2</text>
<text x="172.3" y="768.2" font-size="17" font-weight="bold" font-style="normal" text-anchor="middle" fill="#000" textLength="39.5" lengthAdjust="spacingAndGlyphs">CH 6</text>
<path d="M200.4,234.1 H463 V492.5" fill="none" stroke="#000" stroke-width="1.6"/>
<path d="M458,492 L468,492 L463,502 z" fill="#000"/>
<path d="M200.4,536.4 H408" fill="none" stroke="#000" stroke-width="1.5"/>
<path d="M407.5,531.4 L407.5,541.4 L417.3,536.4 z" fill="#000"/>
<path d="M200.4,763 H463 V580" fill="none" stroke="#000" stroke-width="1.5"/>
<path d="M458,580.6 L468,580.6 L463,570.8 z" fill="#000"/>
<path d="M508.4,536.4 H559" fill="none" stroke="#000" stroke-width="1.5"/>
<path d="M558.4,531.4 L558.4,541.4 L568.2,536.4 z" fill="#000"/>
<rect x="417.6" y="502.4" width="90.79999999999995" height="68.0" fill="none" stroke="#000" stroke-width="1.65"/>
<rect x="568.4" y="502.2" width="136.60000000000002" height="68.00000000000006" fill="none" stroke="#000" stroke-width="1.65"/>
<text x="463.5" y="546.3" font-size="32" font-weight="normal" font-style="normal" text-anchor="middle" fill="#0000c8" textLength="53" lengthAdjust="spacingAndGlyphs">ESB</text>
<text x="636.3" y="527.2" font-size="32" font-weight="normal" font-style="normal" text-anchor="middle" fill="#ff0000" textLength="91.5" lengthAdjust="spacingAndGlyphs">Capon</text>
<text x="636.6" y="564.6" font-size="32" font-weight="normal" font-style="normal" text-anchor="middle" fill="#ff0000" textLength="86" lengthAdjust="spacingAndGlyphs">HRRP</text>
<path d="M705.6,528.2 H770.4 V521 L786,536.4 L770.4,551.8 V544.4 H705.6 z" fill="#fff" stroke="#f59b58" stroke-width="2.4" stroke-linejoin="miter"/>
<circle cx="173.8" cy="633" r="1.9" fill="#000"/>
<circle cx="173.8" cy="643" r="1.9" fill="#000"/>
<circle cx="173.8" cy="653" r="1.9" fill="#000"/>
<text x="470" y="363.6" font-size="32" font-style="italic" fill="#000" textLength="22" lengthAdjust="spacingAndGlyphs">w</text>
<text x="492.6" y="354.3" font-size="13" fill="#111">*</text>
<text x="498.6" y="363.6" font-size="15.5" fill="#111">1</text>
<text x="286.6" y="532.9" font-size="32" font-style="italic" fill="#000" textLength="22" lengthAdjust="spacingAndGlyphs">w</text>
<text x="309.20000000000005" y="523.6" font-size="13" fill="#111">*</text>
<text x="315.20000000000005" y="532.9" font-size="15.5" fill="#111">2</text>
<text x="282.3" y="759" font-size="32" font-style="italic" fill="#000" textLength="22" lengthAdjust="spacingAndGlyphs">w</text>
<text x="304.90000000000003" y="749.7" font-size="13" fill="#111">*</text>
<text x="310.90000000000003" y="759" font-size="15.5" fill="#111">6</text>
<ellipse cx="545.8" cy="24.7" rx="143.8" ry="20.8" fill="#f5a05a" stroke="#000" stroke-width="1.8"/>
<text x="545.8" y="32.4" font-size="25" font-weight="normal" font-style="normal" text-anchor="middle" fill="#000" textLength="120.5" lengthAdjust="spacingAndGlyphs">Ionosphere</text>
<path d="M332,154 V196.8 M317,199.2 H348.8" stroke="#000" stroke-width="2" fill="none"/>
<path d="M311.3,165.6 L332,154 L350.8,170.4 M320.5,174.2 L332,154 L343.8,174.2" stroke="#000" stroke-width="1.8" fill="none" stroke-linejoin="miter"/>
<path d="M335.8,128.8 Q332.2,135 334.6,141.8" fill="none" stroke="#be4b48" stroke-width="1.9" stroke-linecap="round" stroke-linejoin="round"/>
<path d="M342.6,129.8 L354.6,138.6" fill="none" stroke="#be4b48" stroke-width="1.9" stroke-linecap="round" stroke-linejoin="round"/>
<path d="M360.4,125.2 Q364.6,131 362.4,137.6" fill="none" stroke="#be4b48" stroke-width="1.9" stroke-linecap="round" stroke-linejoin="round"/>
<path d="M368.8,113.2 Q364.6,113.8 365.8,118.2 L367.4,124.0" fill="none" stroke="#be4b48" stroke-width="1.9" stroke-linecap="round" stroke-linejoin="round"/>
<path d="M394.2,97.6 Q390.0,98.2 391.2,102.6 L392.8,108.4" fill="none" stroke="#be4b48" stroke-width="1.9" stroke-linecap="round" stroke-linejoin="round"/>
<path d="M420.8,82.2 Q416.6,82.8 417.8,87.2 L419.4,93.0" fill="none" stroke="#be4b48" stroke-width="1.9" stroke-linecap="round" stroke-linejoin="round"/>
<path d="M447.4,66.4 Q443.2,67.0 444.4,71.4 L446.0,77.2" fill="none" stroke="#be4b48" stroke-width="1.9" stroke-linecap="round" stroke-linejoin="round"/>
<path d="M473.2,51.4 Q469.0,52.0 470.2,56.4 L471.8,62.2" fill="none" stroke="#be4b48" stroke-width="1.9" stroke-linecap="round" stroke-linejoin="round"/>
<path d="M375.2,120.2 Q378.6,124.2 381.6,125.2 Q384.8,124.4 385.2,119.6" fill="none" stroke="#be4b48" stroke-width="1.9" stroke-linecap="round" stroke-linejoin="round"/>
<path d="M401.4,105.2 Q404.8,109.2 407.8,110.2 Q411.0,109.4 411.4,104.6" fill="none" stroke="#be4b48" stroke-width="1.9" stroke-linecap="round" stroke-linejoin="round"/>
<path d="M427.6,89.6 Q431.0,93.6 434.0,94.6 Q437.2,93.8 437.6,89.0" fill="none" stroke="#be4b48" stroke-width="1.9" stroke-linecap="round" stroke-linejoin="round"/>
<path d="M454.6,74.2 Q458.0,78.2 461.0,79.2 Q464.2,78.4 464.6,73.6" fill="none" stroke="#be4b48" stroke-width="1.9" stroke-linecap="round" stroke-linejoin="round"/>
<path d="M481.2,59.2 Q484.6,63.2 487.6,64.2 Q490.8,63.4 491.2,58.6" fill="none" stroke="#be4b48" stroke-width="1.9" stroke-linecap="round" stroke-linejoin="round"/>
<path d="M612.6,57.8 Q618,51.4 624.4,50.6" fill="none" stroke="#be4b48" stroke-width="1.9" stroke-linecap="round" stroke-linejoin="round"/>
<path d="M624.6,60 L627,73.6" fill="none" stroke="#be4b48" stroke-width="1.9" stroke-linecap="round" stroke-linejoin="round"/>
<path d="M630,79.6 Q635.6,77.4 639.6,72.4" fill="none" stroke="#be4b48" stroke-width="1.9" stroke-linecap="round" stroke-linejoin="round"/>
<path d="M643.8,75.0 Q648.8,68.4 653.0,68.0 Q654.8,69.6 654.0,74.4" fill="none" stroke="#be4b48" stroke-width="1.9" stroke-linecap="round" stroke-linejoin="round"/>
<path d="M669.6,91.0 Q674.6,84.4 678.8,84.0 Q680.6,85.6 679.8,90.4" fill="none" stroke="#be4b48" stroke-width="1.9" stroke-linecap="round" stroke-linejoin="round"/>
<path d="M695.6,106.0 Q700.6,99.4 704.8,99.0 Q706.6,100.6 705.8,105.4" fill="none" stroke="#be4b48" stroke-width="1.9" stroke-linecap="round" stroke-linejoin="round"/>
<path d="M721.0,121.0 Q726.0,114.4 730.2,114.0 Q732.0,115.6 731.2,120.4" fill="none" stroke="#be4b48" stroke-width="1.9" stroke-linecap="round" stroke-linejoin="round"/>
<path d="M747.0,136.0 Q752.0,129.4 756.2,129.0 Q758.0,130.6 757.2,135.4" fill="none" stroke="#be4b48" stroke-width="1.9" stroke-linecap="round" stroke-linejoin="round"/>
<path d="M650.8,81.0 Q648.8,87.4 651.8,89.6 Q654.2,90.0 655.6,88.0" fill="none" stroke="#be4b48" stroke-width="1.9" stroke-linecap="round" stroke-linejoin="round"/>
<path d="M676.8,97.4 Q674.8,103.8 677.8,106.0 Q680.2,106.4 681.6,104.4" fill="none" stroke="#be4b48" stroke-width="1.9" stroke-linecap="round" stroke-linejoin="round"/>
<path d="M702.4,112.0 Q700.4,118.4 703.4,120.6 Q705.8,121.0 707.2,119.0" fill="none" stroke="#be4b48" stroke-width="1.9" stroke-linecap="round" stroke-linejoin="round"/>
<path d="M728.8,127.0 Q726.8,133.4 729.8,135.6 Q732.2,136.0 733.6,134.0" fill="none" stroke="#be4b48" stroke-width="1.9" stroke-linecap="round" stroke-linejoin="round"/>
<path d="M755.0,142.4 Q753.0,148.8 756.0,151.0 Q758.4,151.4 759.8,149.4" fill="none" stroke="#be4b48" stroke-width="1.9" stroke-linecap="round" stroke-linejoin="round"/>
<ellipse cx="766.2" cy="186.7" rx="24.1" ry="29" fill="none" stroke="#ff0000" stroke-width="2"/>
<path d="M766.2,185 V208.8" stroke="#000" stroke-width="2.4" fill="none"/>
<path d="M751,208.9 H783" stroke="#000" stroke-width="2.2" fill="none"/>
<path d="M750.8,174.4 L766.2,186 L781.8,175 M760,171.2 L766.2,186 L773.8,169.6" stroke="#000" stroke-width="1.6" fill="none"/>
<path d="M783,166.2 L799.5,154.2" stroke="#ff0000" stroke-width="2" fill="none"/>
<path d="M807.2,148.6 L802.6,158.4 L796.4,150 z" fill="#ff0000"/>
<path d="M806.8,114.6 H978.7" fill="none" stroke="#ff0000" stroke-width="1.9" stroke-dasharray="16.2 7.8" stroke-dashoffset="-8.1"/>
<path d="M978.7,114.6 V206.4" fill="none" stroke="#ff0000" stroke-width="1.9" stroke-dasharray="16 7.4" stroke-dashoffset="-3"/>
<path d="M978.7,206.4 H806.8" fill="none" stroke="#ff0000" stroke-width="1.9" stroke-dasharray="16.2 7.85" stroke-dashoffset="-6.9"/>
<path d="M806.8,206.4 V114.6" fill="none" stroke="#ff0000" stroke-width="1.9" stroke-dasharray="15.8 8" stroke-dashoffset="-3.4"/>
<text x="793.6" y="104.9" font-size="23" font-weight="normal" font-style="normal" text-anchor="start" fill="#000" textLength="12.4" lengthAdjust="spacingAndGlyphs">S</text>
<text x="970.4" y="104.9" font-size="23" font-weight="normal" font-style="normal" text-anchor="start" fill="#000" textLength="22.8" lengthAdjust="spacingAndGlyphs">W</text>
<path d="M813,125.8 L891.7,204.8 L972.8,124.1" fill="none" stroke="#3c3c3c" stroke-width="1.4" stroke-linejoin="miter"/>
<path d="M807.5,120.3 L818.2,122.6 L809.8,131 z" fill="#3c3c3c"/>
<path d="M978.4,118.5 L976.2,129.2 L967.7,120.8 z" fill="#3c3c3c"/>
<circle cx="831.9" cy="143.6" r="1.8" fill="#1a1a1a"/>
<path d="M831.9,143.6 V124.6 M827.3,124.6 H836.5 L831.9,132.0 z" fill="none" stroke="#3a3a3a" stroke-width="0.85"/>
<circle cx="852.4" cy="165.2" r="1.8" fill="#1a1a1a"/>
<path d="M852.4,165.2 V146.2 M847.8,146.2 H857.0 L852.4,153.6 z" fill="none" stroke="#3a3a3a" stroke-width="0.85"/>
<circle cx="873.9" cy="185.6" r="1.8" fill="#1a1a1a"/>
<path d="M873.9,185.6 V166.6 M869.3,166.6 H878.5 L873.9,174.0 z" fill="none" stroke="#3a3a3a" stroke-width="0.85"/>
<circle cx="912" cy="185.3" r="1.8" fill="#1a1a1a"/>
<path d="M912,185.3 V166.3 M907.4,166.3 H916.6 L912,173.7 z" fill="none" stroke="#3a3a3a" stroke-width="0.85"/>
<circle cx="933.7" cy="164" r="1.8" fill="#1a1a1a"/>
<path d="M933.7,164 V145.0 M929.1,145.0 H938.3 L933.7,152.4 z" fill="none" stroke="#3a3a3a" stroke-width="0.85"/>
<circle cx="957.9" cy="139.4" r="1.8" fill="#1a1a1a"/>
<path d="M957.9,139.4 V120.4 M953.3,120.4 H962.5 L957.9,127.8 z" fill="none" stroke="#3a3a3a" stroke-width="0.85"/>
<path d="M856.8,355.1 H1064.9 V423.4" fill="none" stroke="#cc0a20" stroke-width="1.5" stroke-dasharray="10.1 11.3" stroke-dashoffset="-2.7"/>
<path d="M856.8,355.1 V423.4 H1064.9" fill="none" stroke="#cc0a20" stroke-width="1.5" stroke-dasharray="10.1 11.3" stroke-dashoffset="-8.5"/>
<path d="M908,425.4 L890.6,540" fill="none" stroke="#cc0a20" stroke-width="1.5" stroke-dasharray="11.5 10"/>
<path d="M1010.8,425.4 L1023.4,540" fill="none" stroke="#cc0a20" stroke-width="1.5" stroke-dasharray="11.5 10"/>
<path transform="translate(888.8,552.6) rotate(7)" d="M0,0 L-7.6,-16.6 L0,-11.4 L7.6,-16.6 z" fill="#cc0a20"/>
<path transform="translate(1025,552.6) rotate(-6)" d="M0,0 L-7.6,-16.6 L0,-11.4 L7.6,-16.6 z" fill="#cc0a20"/>
</svg>
</body></html>
